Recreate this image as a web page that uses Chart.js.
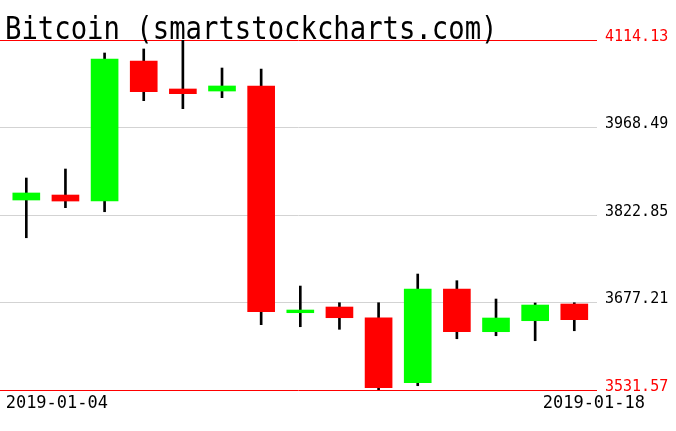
<!DOCTYPE html>
<html>
<head>
<meta charset="utf-8">
<script src="https://cdn.jsdelivr.net/npm/chart.js@4/dist/chart.umd.min.js"></script>
<style>
  html, body { margin: 0; padding: 0; background: #ffffff; }
  #wrap { width: 676px; height: 431px; position: relative; }
</style>
</head>
<body>
<div id="wrap"><canvas id="c" width="676" height="431"></canvas></div>
<script>
// ---- Data ----
const TITLE = 'Bitcoin (smartstockcharts.com)';
const categories = ['2019-01-04','2019-01-05','2019-01-06','2019-01-07','2019-01-08',
                    '2019-01-09','2019-01-10','2019-01-11','2019-01-12','2019-01-13',
                    '2019-01-14','2019-01-15','2019-01-16','2019-01-17','2019-01-18'];
const opens  = [3847.8, 3856.1, 3846.1, 4079.2, 4032.6, 4029.2, 4037.6, 3660.2, 3669.7, 3651.9, 3543.7, 3699.7, 3628.6, 3646.9, 3674.7];
const highs  = [3884.4, 3899.4, 4092.5, 4099.2, 4114.13, 4067.5, 4065.9, 3704.6, 3676.8, 3676.8, 3724.6, 3713.5, 3683.0, 3676.4, 3676.8];
const lows   = [3785.0, 3835.0, 3828.3, 4013.1, 3999.8, 4018.1, 3640.2, 3636.9, 3632.6, 3531.57, 3538.7, 3616.9, 3621.9, 3613.6, 3630.2];
const closes = [3859.5, 3846.1, 4082.5, 4028.1, 4024.8, 4037.6, 3661.9, 3664.7, 3651.9, 3535.4, 3699.7, 3628.6, 3651.4, 3673.0, 3648.6];
const yTickValues = [3531.57, 3677.21, 3822.85, 3968.49, 4114.13];
const xTickLabels = ['2019-01-04', '2019-01-18'];

// ---- Derived structures for the library ----
const UP = '#00ff00', DOWN = '#ff0000';
const bodies = categories.map((c, i) => ({ x: i, y: [opens[i], closes[i]] }));
const wicks  = categories.map((c, i) => ({ x: i, y: [lows[i], highs[i]] }));
const bodyColors = categories.map((c, i) => closes[i] >= opens[i] ? UP : DOWN);

const yMin = Math.min(...yTickValues), yMax = Math.max(...yTickValues);

const titlePlugin = {
  id: 'leftTitle',
  afterDraw(chart) {
    const ctx = chart.ctx;
    ctx.save();
    ctx.font = '27px "DejaVu Sans Mono"';
    ctx.fillStyle = '#000000';
    ctx.textBaseline = 'alphabetic';
    ctx.textAlign = 'left';
    ctx.translate(5, 39);
    ctx.scale(1.01, 1.2);
    ctx.fillText(TITLE, 0, 0);
    ctx.restore();
  }
};

new Chart(document.getElementById('c'), {
  type: 'bar',
  data: {
    datasets: [
      {
        label: 'wick',
        data: wicks,
        backgroundColor: '#000000',
        barThickness: 2,
        grouped: false,
        order: 2
      },
      {
        label: 'body',
        data: bodies,
        backgroundColor: bodyColors,
        barThickness: 27,
        grouped: false,
        order: 1
      }
    ]
  },
  options: {
    responsive: false,
    animation: false,
    events: [],
    layout: { padding: { top: 40, left: 0, right: 0, bottom: 0 } },
    plugins: {
      legend: { display: false },
      title: { display: false },
      tooltip: { enabled: false }
    },
    scales: {
      x: {
        type: 'linear',
        offset: false,
        min: -0.672,
        max: 14.58,
        grid: { display: false, offset: false },
        border: { display: false },
        afterFit(s) { s.height = 41; },
        afterBuildTicks(s) {
          s.ticks = [{ value: 0.78 }, { value: 14.5 }];
        },
        ticks: {
          autoSkip: false,
          maxRotation: 0,
          padding: -5,
          color: '#000000',
          font: { family: '"DejaVu Sans Mono"', size: 17 },
          callback: (v, idx) => xTickLabels[idx]
        }
      },
      y: {
        position: 'right',
        min: yMin,
        max: yMax,
        z: 1,
        afterFit(s) { s.width = 79; },
        afterBuildTicks(s) {
          s.ticks = yTickValues.map(v => ({ value: v }));
        },
        border: { display: false },
        grid: {
          drawTicks: false,
          lineWidth: 1,
          color: (ctx) => (ctx.tick && (ctx.tick.value === yMin || ctx.tick.value === yMax)) ? '#ff0000' : '#d3d3d3'
        },
        ticks: {
          padding: 8,
          labelOffset: -3,
          font: { family: '"DejaVu Sans Mono"', size: 15 },
          color: (ctx) => (ctx.tick && (ctx.tick.value === yMin || ctx.tick.value === yMax)) ? '#ff0000' : '#000000',
          callback: (v) => Number(v).toFixed(2)
        }
      }
    }
  },
  plugins: [titlePlugin]
});
</script>
</body>
</html>
